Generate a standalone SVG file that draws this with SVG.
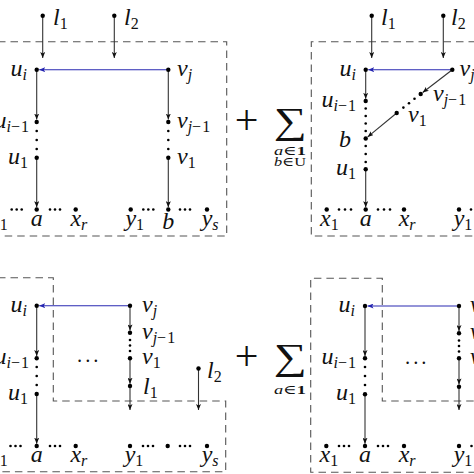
<svg xmlns="http://www.w3.org/2000/svg" width="474" height="474" viewBox="0 0 474 474">
<defs>
<marker id="ah" viewBox="0 0 6 5" refX="6" refY="2.5" markerWidth="6" markerHeight="5" markerUnits="userSpaceOnUse" orient="auto"><path d="M0,0 L6,2.5 L0,5 L1.4,2.5 z" fill="#111"/></marker>
<marker id="ahb" viewBox="0 0 6 5" refX="6" refY="2.5" markerWidth="6" markerHeight="5" markerUnits="userSpaceOnUse" orient="auto"><path d="M0,0 L6,2.5 L0,5 L1.4,2.5 z" fill="#2424b0"/></marker>
<style>
.e{stroke:#333;stroke-width:1.1;fill:none}
.eb{stroke:#2a2ab2;stroke-width:1.1;fill:none}
.box{stroke:#555;stroke-width:1.1;stroke-dasharray:7.5 5;fill:none}
circle{fill:#000}
.d{fill:#000}
.m{font-family:"Liberation Serif","DejaVu Serif",serif;font-style:italic;font-size:24px;fill:#111}
.s{font-size:16px}
.r{font-style:normal}
.bf{font-style:normal;font-weight:bold}
.op{font-family:"Liberation Serif","DejaVu Serif",serif;fill:#111}
.sub{font-size:13px}
.mid{text-anchor:middle}
.end{text-anchor:end}
</style>
</defs>

<!-- dashed boxes -->
<g id="boxes">
<path class="box" d="M-2,41.7 H226.7 V236 H-2"/>
<path class="box" d="M476,41.7 H311.3 V236 H476"/>
<path class="box" d="M-2,277.7 H53.3 V401 H225.7 V471.7 H-2"/>
<path class="box" d="M476,472.3 H310.7 V278.3 H382.3 V401 H476"/>
</g>

<!-- connectors -->
<g id="connectors">
<!-- top-left -->
<line class="e" x1="42.7" y1="15.7" x2="42.7" y2="58" marker-end="url(#ah)"/>
<line class="e" x1="114.3" y1="15.7" x2="114.3" y2="58" marker-end="url(#ah)"/>
<line class="eb" x1="168.3" y1="69.7" x2="39.2" y2="69.7" marker-end="url(#ahb)"/>
<line class="e" x1="36.7" y1="69.7" x2="36.7" y2="119.6" marker-end="url(#ah)"/>
<line class="e" x1="36.7" y1="157.7" x2="36.7" y2="207.2" marker-end="url(#ah)"/>
<line class="e" x1="168.3" y1="69.7" x2="168.3" y2="119.6" marker-end="url(#ah)"/>
<line class="e" x1="168.3" y1="157.7" x2="168.3" y2="207.2" marker-end="url(#ah)"/>
<g class="d">
<circle cx="36.7" cy="131" r="1.3"/><circle cx="36.7" cy="140" r="1.3"/><circle cx="36.7" cy="149" r="1.3"/>
<circle cx="168.3" cy="131" r="1.3"/><circle cx="168.3" cy="140" r="1.3"/><circle cx="168.3" cy="149" r="1.3"/>
<circle cx="11.7" cy="209.5" r="1.3"/><circle cx="16.7" cy="209.5" r="1.3"/><circle cx="21.7" cy="209.5" r="1.3"/>
<circle cx="50" cy="209.5" r="1.3"/><circle cx="55" cy="209.5" r="1.3"/><circle cx="60" cy="209.5" r="1.3"/>
<circle cx="143.3" cy="209.5" r="1.3"/><circle cx="148.3" cy="209.5" r="1.3"/><circle cx="153.3" cy="209.5" r="1.3"/>
<circle cx="180" cy="209.5" r="1.3"/><circle cx="185" cy="209.5" r="1.3"/><circle cx="190" cy="209.5" r="1.3"/>
</g>
<!-- top-right -->
<line class="e" x1="371.7" y1="15.7" x2="371.7" y2="58" marker-end="url(#ah)"/>
<line class="e" x1="443.3" y1="15.7" x2="443.3" y2="58" marker-end="url(#ah)"/>
<line class="eb" x1="452.3" y1="69.7" x2="368.2" y2="69.7" marker-end="url(#ahb)"/>
<line class="e" x1="365.7" y1="69.7" x2="365.7" y2="98.8" marker-end="url(#ah)"/>
<line class="e" x1="365.7" y1="169.3" x2="365.7" y2="207.2" marker-end="url(#ah)"/>
<line class="e" x1="452.3" y1="69.7" x2="422.7" y2="92.5" marker-end="url(#ah)"/>
<line class="e" x1="396.7" y1="113" x2="367.7" y2="136.9" marker-end="url(#ah)"/>
<g class="d">
<circle cx="365.7" cy="108.5" r="1.3"/><circle cx="365.7" cy="116" r="1.3"/><circle cx="365.7" cy="123.5" r="1.3"/><circle cx="365.7" cy="131" r="1.3"/>
<circle cx="365.7" cy="146" r="1.3"/><circle cx="365.7" cy="154" r="1.3"/><circle cx="365.7" cy="162" r="1.3"/>
<circle cx="414.5" cy="98.8" r="1.3"/><circle cx="409" cy="103.2" r="1.3"/><circle cx="403.4" cy="107.6" r="1.3"/>
<circle cx="339" cy="209.5" r="1.3"/><circle cx="345" cy="209.5" r="1.3"/><circle cx="351" cy="209.5" r="1.3"/>
<circle cx="378" cy="209.5" r="1.3"/><circle cx="384" cy="209.5" r="1.3"/><circle cx="390" cy="209.5" r="1.3"/>
<circle cx="471" cy="209.5" r="1.3"/>
</g>
<!-- bottom-left -->
<line class="eb" x1="130" y1="305.7" x2="39.2" y2="305.7" marker-end="url(#ahb)"/>
<line class="e" x1="36.7" y1="305.7" x2="36.7" y2="356" marker-end="url(#ah)"/>
<line class="e" x1="36.7" y1="394" x2="36.7" y2="443.7" marker-end="url(#ah)"/>
<line class="e" x1="130" y1="305.7" x2="130" y2="330.4" marker-end="url(#ah)"/>
<line class="e" x1="130" y1="358.3" x2="130" y2="383.7" marker-end="url(#ah)"/>
<line class="e" x1="130" y1="386" x2="130" y2="410" marker-end="url(#ah)"/>
<line class="e" x1="198.5" y1="368.5" x2="198.5" y2="410" marker-end="url(#ah)"/>
<g class="d">
<circle cx="36.7" cy="367" r="1.3"/><circle cx="36.7" cy="376" r="1.3"/><circle cx="36.7" cy="385" r="1.3"/>
<circle cx="130" cy="340" r="1.3"/><circle cx="130" cy="345.5" r="1.3"/><circle cx="130" cy="351" r="1.3"/>
<circle cx="10.5" cy="446" r="1.3"/><circle cx="15.5" cy="446" r="1.3"/><circle cx="20.5" cy="446" r="1.3"/>
<circle cx="50" cy="446" r="1.3"/><circle cx="55" cy="446" r="1.3"/><circle cx="60" cy="446" r="1.3"/>
<circle cx="143" cy="446" r="1.3"/><circle cx="148" cy="446" r="1.3"/><circle cx="153" cy="446" r="1.3"/>
<circle cx="180" cy="446" r="1.3"/><circle cx="185" cy="446" r="1.3"/><circle cx="190" cy="446" r="1.3"/>
</g>
<!-- bottom-right -->
<line class="eb" x1="459" y1="306" x2="367.5" y2="306" marker-end="url(#ahb)"/>
<line class="e" x1="365" y1="306" x2="365" y2="356" marker-end="url(#ah)"/>
<line class="e" x1="365" y1="394.3" x2="365" y2="443.7" marker-end="url(#ah)"/>
<line class="e" x1="459" y1="306" x2="459" y2="331" marker-end="url(#ah)"/>
<line class="e" x1="459" y1="358.3" x2="459" y2="384.4" marker-end="url(#ah)"/>
<line class="e" x1="459" y1="386.7" x2="459" y2="410" marker-end="url(#ah)"/>
<g class="d">
<circle cx="365" cy="367" r="1.3"/><circle cx="365" cy="376" r="1.3"/><circle cx="365" cy="385" r="1.3"/>
<circle cx="459" cy="340.5" r="1.3"/><circle cx="459" cy="346" r="1.3"/><circle cx="459" cy="351.5" r="1.3"/>
<circle cx="339" cy="446" r="1.3"/><circle cx="344" cy="446" r="1.3"/><circle cx="349" cy="446" r="1.3"/>
<circle cx="378" cy="446" r="1.3"/><circle cx="383" cy="446" r="1.3"/><circle cx="388" cy="446" r="1.3"/>
<circle cx="471.5" cy="446" r="1.3"/>
</g>
</g>

<!-- ===== top-left nodes ===== -->
<g id="tl-l1"><circle cx="42.7" cy="15.7" r="2.2"/><text class="m" x="53" y="24.5">l<tspan class="s r" dy="4">1</tspan></text></g>
<g id="tl-l2"><circle cx="114.3" cy="15.7" r="2.2"/><text class="m" x="124" y="24.5">l<tspan class="s r" dy="4">2</tspan></text></g>
<g id="tl-ui"><circle cx="36.7" cy="69.7" r="2.2"/><text class="m end" x="27" y="75.5">u<tspan class="s" dy="4">i</tspan></text></g>
<g id="tl-vj"><circle cx="168.3" cy="69.7" r="2.2"/><text class="m" x="177" y="75.5">v<tspan class="s" dy="4">j</tspan></text></g>
<g id="tl-ui1"><circle cx="36.7" cy="122" r="2.2"/><text class="m end" x="30" y="127.5">u<tspan class="s" dy="4">i</tspan><tspan class="s r" letter-spacing="1">−1</tspan></text></g>
<g id="tl-u1"><circle cx="36.7" cy="157.7" r="2.2"/><text class="m end" x="28" y="163.5">u<tspan class="s r" dy="4">1</tspan></text></g>
<g id="tl-vj1"><circle cx="168.3" cy="122" r="2.2"/><text class="m" x="177" y="127.5">v<tspan class="s" dy="4">j</tspan><tspan class="s r" letter-spacing="1">−1</tspan></text></g>
<g id="tl-v1"><circle cx="168.3" cy="157.7" r="2.2"/><text class="m" x="177" y="163.5">v<tspan class="s r" dy="4">1</tspan></text></g>
<g id="tl-x1"><circle cx="-4" cy="209.5" r="2.2"/><text class="m" x="-11" y="225.5">x<tspan class="s r" dy="4">1</tspan></text></g>
<g id="tl-a"><circle cx="36.7" cy="209.5" r="2.2"/><text class="m mid" x="36.7" y="225.5">a</text></g>
<g id="tl-xr"><circle cx="75.7" cy="209.5" r="2.2"/><text class="m" x="70.4" y="225.5">x<tspan class="s" dy="4">r</tspan></text></g>
<g id="tl-y1"><circle cx="130.7" cy="209.5" r="2.2"/><text class="m" x="125.4" y="225.5">y<tspan class="s r" dy="4">1</tspan></text></g>
<g id="tl-b"><circle cx="168.3" cy="209.5" r="2.2"/><text class="m mid" x="168.3" y="228.5">b</text></g>
<g id="tl-ys"><circle cx="207" cy="209.5" r="2.2"/><text class="m" x="201.7" y="225.5">y<tspan class="s" dy="4">s</tspan></text></g>

<!-- operators top -->
<g id="op-top">
<text class="op mid" x="246.5" y="133.5" font-size="42">+</text>
<text class="op mid" transform="translate(290,133) scale(1.25,1)" x="0" y="0" font-size="37">∑</text>
<text class="m mid sub"><tspan x="290" y="155" textLength="32" lengthAdjust="spacingAndGlyphs">a<tspan class="r">∈</tspan><tspan class="bf">1</tspan></tspan><tspan x="290" y="165.5" textLength="32" lengthAdjust="spacingAndGlyphs">b<tspan class="r">∈U</tspan></tspan></text>
</g>

<!-- ===== top-right nodes ===== -->
<g id="tr-l1"><circle cx="371.7" cy="15.7" r="2.2"/><text class="m" x="381" y="24.5">l<tspan class="s r" dy="4">1</tspan></text></g>
<g id="tr-l2"><circle cx="443.3" cy="15.7" r="2.2"/><text class="m" x="451" y="24.5">l<tspan class="s r" dy="4">2</tspan></text></g>
<g id="tr-ui"><circle cx="365.7" cy="69.7" r="2.2"/><text class="m end" x="356" y="75.5">u<tspan class="s" dy="4">i</tspan></text></g>
<g id="tr-vj"><circle cx="452.3" cy="69.7" r="2.2"/><text class="m" x="459.5" y="75.5">v<tspan class="s" dy="4">j</tspan></text></g>
<g id="tr-ui1"><circle cx="365.7" cy="101" r="2.2"/><text class="m end" x="357" y="106.5">u<tspan class="s" dy="4">i</tspan><tspan class="s r" letter-spacing="1">−1</tspan></text></g>
<g id="tr-b"><circle cx="365.7" cy="138.5" r="2.2"/><text class="m end" x="351" y="146.5">b</text></g>
<g id="tr-u1"><circle cx="365.7" cy="169.3" r="2.2"/><text class="m end" x="356" y="175">u<tspan class="s r" dy="4">1</tspan></text></g>
<g id="tr-vj1"><circle cx="420.7" cy="94" r="2.2"/><text class="m" x="433" y="100.5">v<tspan class="s" dy="4">j</tspan><tspan class="s r" letter-spacing="1">−1</tspan></text></g>
<g id="tr-v1"><circle cx="396.7" cy="113" r="2.2"/><text class="m" x="408" y="121.5">v<tspan class="s r" dy="4">1</tspan></text></g>
<g id="tr-x1"><circle cx="326.7" cy="209.5" r="2.2"/><text class="m" x="320" y="226">x<tspan class="s r" dy="4">1</tspan></text></g>
<g id="tr-a"><circle cx="365.7" cy="209.5" r="2.2"/><text class="m mid" x="365.7" y="226">a</text></g>
<g id="tr-xr"><circle cx="404" cy="209.5" r="2.2"/><text class="m" x="398.7" y="226">x<tspan class="s" dy="4">r</tspan></text></g>
<g id="tr-y1"><circle cx="459" cy="209.5" r="2.2"/><text class="m" x="453.7" y="226">y<tspan class="s r" dy="4">1</tspan></text></g>

<!-- ===== bottom-left nodes ===== -->
<g id="bl-ui"><circle cx="36.7" cy="305.7" r="2.2"/><text class="m end" x="27" y="311.5">u<tspan class="s" dy="4">i</tspan></text></g>
<g id="bl-vj"><circle cx="130" cy="305.7" r="2.2"/><text class="m" x="142" y="311.5">v<tspan class="s" dy="4">j</tspan></text></g>
<g id="bl-ui1"><circle cx="36.7" cy="358.3" r="2.2"/><text class="m end" x="30" y="364">u<tspan class="s" dy="4">i</tspan><tspan class="s r" letter-spacing="1">−1</tspan></text></g>
<g id="bl-u1"><circle cx="36.7" cy="394" r="2.2"/><text class="m end" x="28" y="400">u<tspan class="s r" dy="4">1</tspan></text></g>
<g id="bl-vj1"><circle cx="130" cy="332.7" r="2.2"/><text class="m" x="142" y="338.5">v<tspan class="s" dy="4">j</tspan><tspan class="s r" letter-spacing="1">−1</tspan></text></g>
<g id="bl-v1"><circle cx="130" cy="358.3" r="2.2"/><text class="m" x="142" y="364">v<tspan class="s r" dy="4">1</tspan></text></g>
<g id="bl-l1"><circle cx="130" cy="386" r="2.2"/><text class="m" x="143" y="394">l<tspan class="s r" dy="4">1</tspan></text></g>
<g id="bl-l2"><circle cx="198.5" cy="368.5" r="2.2"/><text class="m" x="207" y="377.5">l<tspan class="s r" dy="4">2</tspan></text></g>
<g id="bl-x1"><circle cx="-4" cy="446" r="2.2"/><text class="m" x="-11" y="462">x<tspan class="s r" dy="4">1</tspan></text></g>
<g id="bl-a"><circle cx="36.7" cy="446" r="2.2"/><text class="m mid" x="36.7" y="462">a</text></g>
<g id="bl-xr"><circle cx="75.7" cy="446" r="2.2"/><text class="m" x="70.4" y="462">x<tspan class="s" dy="4">r</tspan></text></g>
<g id="bl-y1"><circle cx="130" cy="446" r="2.2"/><text class="m" x="124.7" y="462">y<tspan class="s r" dy="4">1</tspan></text></g>
<g id="bl-mid"><circle cx="167.7" cy="446" r="2.2"/></g>
<g id="bl-ys"><circle cx="207" cy="446" r="2.2"/><text class="m" x="201.7" y="462">y<tspan class="s" dy="4">s</tspan></text></g>
<g id="bl-dots"><text class="op mid" x="88.5" y="368" font-size="20" letter-spacing="1.5">···</text></g>

<!-- operators bottom -->
<g id="op-bottom">
<text class="op mid" x="246.5" y="369.5" font-size="42">+</text>
<text class="op mid" transform="translate(290,369) scale(1.25,1)" x="0" y="0" font-size="37">∑</text>
<text class="m mid sub" x="290" y="393.5" textLength="32" lengthAdjust="spacingAndGlyphs">a<tspan class="r">∈</tspan><tspan class="bf">1</tspan></text>
</g>

<!-- ===== bottom-right nodes ===== -->
<g id="br-ui"><circle cx="365" cy="306" r="2.2"/><text class="m end" x="355" y="312">u<tspan class="s" dy="4">i</tspan></text></g>
<g id="br-ui1"><circle cx="365" cy="358.3" r="2.2"/><text class="m end" x="357" y="364">u<tspan class="s" dy="4">i</tspan><tspan class="s r" letter-spacing="1">−1</tspan></text></g>
<g id="br-u1"><circle cx="365" cy="394.3" r="2.2"/><text class="m end" x="356" y="400">u<tspan class="s r" dy="4">1</tspan></text></g>
<g id="br-vj"><circle cx="459" cy="306" r="2.2"/><text class="m" x="470" y="312">v<tspan class="s" dy="4">j</tspan></text></g>
<g id="br-vj1"><circle cx="459" cy="333.3" r="2.2"/><text class="m" x="470" y="339">v<tspan class="s" dy="4">j</tspan><tspan class="s r">−1</tspan></text></g>
<g id="br-v1"><circle cx="459" cy="358.3" r="2.2"/><text class="m" x="470" y="364">v<tspan class="s r" dy="4">1</tspan></text></g>
<g id="br-l1"><circle cx="459" cy="386.7" r="2.2"/></g>
<g id="br-x1"><circle cx="326.3" cy="446" r="2.2"/><text class="m" x="319.6" y="462">x<tspan class="s r" dy="4">1</tspan></text></g>
<g id="br-a"><circle cx="365" cy="446" r="2.2"/><text class="m mid" x="365" y="462">a</text></g>
<g id="br-xr"><circle cx="404" cy="446" r="2.2"/><text class="m" x="398.7" y="462">x<tspan class="s" dy="4">r</tspan></text></g>
<g id="br-y1"><circle cx="459" cy="446" r="2.2"/><text class="m" x="453.7" y="462">y<tspan class="s r" dy="4">1</tspan></text></g>
<g id="br-dots"><text class="op mid" x="416.5" y="370" font-size="20" letter-spacing="1.5">···</text></g>
</svg>
